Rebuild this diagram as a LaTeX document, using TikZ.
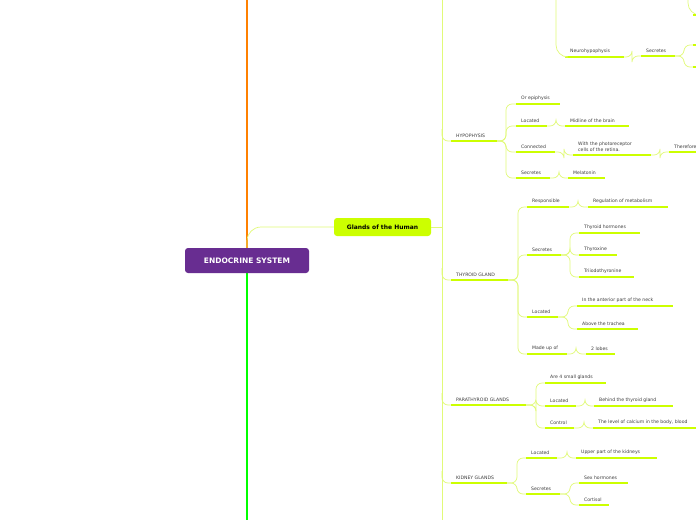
\documentclass[tikz,border=0pt]{standalone}
\usepackage{fontspec}
\setmainfont{DejaVu Sans}
\definecolor{lime}{RGB}{204,255,0}
\definecolor{limel}{RGB}{225,250,120}
\definecolor{purp}{RGB}{104,45,145}
\definecolor{txt}{RGB}{60,60,60}
\tikzset{
  bar/.style={draw=lime,line width=2.6pt},
  conn/.style={draw=limel,line width=0.7pt,rounded corners=6pt},
  lbl/.style={font=\fontsize{4.6}{5.6}\selectfont,text=txt,inner sep=0pt,anchor=south west,align=left},
}
\newcommand\leaf[5]{%
  \coordinate (#1-l) at (#2,#4);
  \coordinate (#1-r) at (#3,#4);
  \draw[bar] (#1-l) -- (#1-r);
  \node[lbl] (#1) at (#2+5,#4-3.5) {#5};}
\newcommand\cn[3]{%
  \coordinate (tmpx) at (#2,0);
  \draw[conn] (#1-r) -- (#1-r -| tmpx) -- (#3-l -| tmpx) -- (#3-l);}
\newcommand\mn[1]{%
  \coordinate (tmpx) at (442,0);
  \draw[conn] ($(#1-l -| tmpx)+(0,-12)$) -- (#1-l -| tmpx) -- (#1-l);}
\usetikzlibrary{calc}
\begin{document}
\begin{tikzpicture}[x=1pt,y=-1pt]
\useasboundingbox (0,0) rectangle (696,520);
\clip (0,0) rectangle (696,520);
\fill[white] (0,0) rectangle (696,520);
\draw[orange,line width=2.6pt] (247,0) -- (247,250);
\draw[green,line width=2.6pt] (247,270) -- (247,520);
\draw[limel,line width=0.7pt] (442,0) -- (442,520);
% central
\node[fill=purp,rounded corners=3pt,minimum width=124pt,minimum height=25pt,inner sep=0pt,text=white,font=\bfseries\fontsize{7.5}{9}\selectfont] (root) at (247,260.5) {ENDOCRINE SYSTEM};
\node[fill=lime,rounded corners=3pt,minimum width=97pt,minimum height=18pt,inner sep=0pt,text=black,font=\bfseries\fontsize{6}{7}\selectfont] (glands) at (382.5,227) {Glands of the Human};
\draw[conn,rounded corners=14pt] (root.north) -- (247,227) -- (glands.west);
\draw[conn] (glands.east) -- (442,227);
% top
\leaf{neuro}{565}{624}{57}{Neurohypophysis}
\leaf{nsec}{641}{675}{56}{Secretes}
\draw[conn,rounded corners=12pt] (556,0) -- (556,57) -- (neuro-l);
\cn{neuro}{632}{nsec}
\coordinate (a1-l) at (693,45); \coordinate (a2-l) at (693,67);
\draw[bar] (a1-l) -- (700,45); \draw[bar] (a2-l) -- (700,67);
\cn{nsec}{684}{a1}\cn{nsec}{684}{a2}
\coordinate (a3-l) at (696,15);
\draw[conn,rounded corners=12pt] (688,0) -- (688,15) -- (a3-l);
\draw[bar] (693,15) -- (700,15);
% hypophysis
\leaf{hyp}{451}{497}{141}{HYPOPHYSIS}\mn{hyp}
\leaf{h1}{516}{560}{104}{Or epiphysis}
\leaf{h2}{516}{547}{126}{Located}
\leaf{h2a}{565}{629}{126}{Midline of the brain}
\leaf{h3}{516}{555}{152}{Connected}
\leaf{h3a}{573}{651}{155}{With the photoreceptor\\cells of the retina.}
\leaf{h3b}{669}{700}{152}{Therefore}
\leaf{h4}{516}{550}{178}{Secretes}
\leaf{h4a}{568}{605}{178}{Melatonin}
\cn{hyp}{506}{h1}\cn{hyp}{506}{h2}\cn{hyp}{506}{h3}\cn{hyp}{506}{h4}
\cn{h2}{556}{h2a}\cn{h3}{564}{h3a}\cn{h3a}{660}{h3b}\cn{h4}{559}{h4a}
% thyroid
\leaf{thy}{451}{508}{280}{THYROID GLAND}\mn{thy}
\leaf{t1}{527}{569}{207}{Responsible}
\leaf{t1a}{588}{668}{207}{Regulation of metabolism}
\leaf{t2}{527}{561}{255}{Secretes}
\leaf{t2a}{579}{640}{233}{Thyroid hormones}
\leaf{t2b}{579}{617}{255}{Thyroxine}
\leaf{t2c}{579}{634}{277}{Triiodothyronine}
\leaf{t3}{527}{558}{317}{Located}
\leaf{t3a}{577}{673}{306}{In the anterior part of the neck}
\leaf{t3b}{577}{638}{329}{Above the trachea}
\leaf{t4}{527}{567}{354}{Made up of}
\leaf{t4a}{586}{615}{354}{2 lobes}
\cn{thy}{518}{t1}\cn{thy}{518}{t2}\cn{thy}{518}{t3}\cn{thy}{518}{t4}
\cn{t1}{578}{t1a}\cn{t2}{570}{t2a}\cn{t2}{570}{t2b}\cn{t2}{570}{t2c}
\cn{t3}{568}{t3a}\cn{t3}{568}{t3b}\cn{t4}{576}{t4a}
% parathyroid
\leaf{par}{451}{526}{405}{PARATHYROID GLANDS}\mn{par}
\leaf{p1}{545}{606}{383}{Are 4 small glands}
\leaf{p2}{545}{576}{406}{Located}
\leaf{p2a}{594}{673}{406}{Behind the thyroid gland}
\leaf{p3}{545}{574}{428}{Control}
\leaf{p3a}{593}{720}{428}{The level of calcium in the body, blood}
\cn{par}{536}{p1}\cn{par}{536}{p2}\cn{par}{536}{p3}
\cn{p2}{585}{p2a}\cn{p3}{584}{p3a}
% kidney
\leaf{kid}{451}{507}{483}{KIDNEY GLANDS}\mn{kid}
\leaf{k1}{526}{557}{458}{Located}
\leaf{k1a}{576}{657}{458}{Upper part of the kidneys}
\leaf{k2}{526}{560}{494}{Secretes}
\leaf{k2a}{579}{628}{483}{Sex hormones}
\leaf{k2b}{579}{609}{505}{Cortisol}
\cn{kid}{517}{k1}\cn{kid}{517}{k2}
\cn{k1}{567}{k1a}\cn{k2}{570}{k2a}\cn{k2}{570}{k2b}
\end{tikzpicture}
\end{document}
